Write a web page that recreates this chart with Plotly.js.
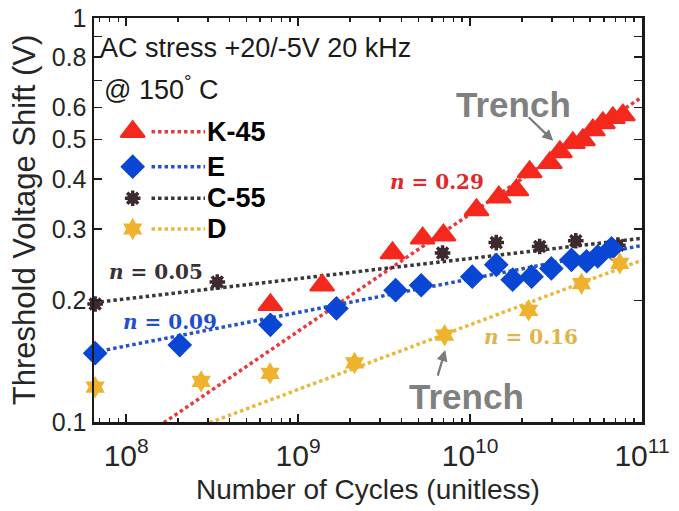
<!DOCTYPE html>
<html><head><meta charset="utf-8">
<script src="https://cdn.plot.ly/plotly-3.0.1.min.js"></script>
<style>html,body{margin:0;padding:0;background:#fff}#chart{width:679px;height:511px}</style>
</head><body><div id="chart"></div>
<script>
// ---------------- data ----------------
const seriesNames = ['K-45', 'E', 'C-55', 'D'];
const k45Cycles = [6.9e8, 1.38e9, 3.54e9, 5.3e9, 7.0e9, 1.09e10, 1.47e10, 1.86e10, 2.22e10, 2.91e10, 3.33e10, 3.96e10, 4.53e10, 5.18e10, 5.92e10, 6.77e10, 7.74e10];
const k45Shift  = [0.195, 0.218, 0.262, 0.285, 0.290, 0.335, 0.360, 0.375, 0.416, 0.438, 0.466, 0.491, 0.499, 0.528, 0.550, 0.566, 0.575];
const eCycles = [6.6e7, 2.05e8, 6.9e8, 1.67e9, 3.69e9, 5.2e9, 1.03e10, 1.42e10, 1.77e10, 2.28e10, 2.97e10, 3.89e10, 4.76e10, 5.53e10, 6.65e10];
const eShift  = [0.148, 0.155, 0.174, 0.191, 0.212, 0.218, 0.229, 0.245, 0.225, 0.229, 0.240, 0.252, 0.250, 0.257, 0.269];
const c55Cycles = [6.6e7, 3.39e8, 6.92e9, 1.42e10, 2.54e10, 4.12e10, 7.24e10];
const c55Shift  = [0.196, 0.222, 0.262, 0.278, 0.272, 0.281, 0.274];
const dCycles = [6.6e7, 2.73e8, 6.87e8, 2.13e9, 7.11e9, 2.19e10, 4.45e10, 7.43e10];
const dShift  = [0.122, 0.126, 0.132, 0.140, 0.164, 0.189, 0.220, 0.247];
// power-law fit lines (as drawn): shift = fitAt1e10 * (cycles / 1e10) ^ fitSlope
const fitSlope  = [0.29, 0.083, 0.05, 0.16];
const fitAt1e10 = [0.327, 0.226, 0.254, 0.174];
const fitLabels = ['0.29', '0.09', '0.05', '0.16'];
const xTickExp = [8, 9, 10, 11];
const yTickVals = [0.1, 0.2, 0.3, 0.4, 0.5, 0.6, 0.7, 0.8, 0.9, 1];
const yTickText = ['0.1', '0.2', '0.3', '0.4', '0.5', '0.6', '', '0.8', '', '1'];
const xMin = 6.5e7, xMax = 1e11;

// ---------------- styles ----------------
const markColor = ['#f4281c', '#0a46d4', '#3c2a2f', '#efb22c'];
const fitColor  = ['#e8393f', '#2352cc', '#383838', '#e8b93c'];
const FONT = 'Liberation Sans, Arial, sans-serif';
const SERIF = 'DejaVu Serif, serif';
const AX = '#1a1a1a';

const markerStyle = [
  {symbol: 'triangle-up', size: 21, color: markColor[0], line: {width: 2, color: markColor[0]}},
  {symbol: 'diamond', size: 19, color: markColor[1], line: {width: 0}},
  {symbol: 'circle', size: 11, color: markColor[2], line: {width: 0}},
  {symbol: 'hexagram', size: 17, color: markColor[3], line: {width: 0}}
];
const c55Spikes = {symbol: 'asterisk-open', size: 13, color: markColor[2], line: {width: 3.5, color: markColor[2]}};

const xs = [k45Cycles, eCycles, c55Cycles, dCycles];
const ys = [k45Shift, eShift, c55Shift, dShift];

const traces = [];
// fit lines
for (let i = 0; i < 4; i++) {
  const fx = [xMin, xMax];
  traces.push({
    x: fx, y: fx.map(v => fitAt1e10[i] * Math.pow(v / 1e10, fitSlope[i])),
    mode: 'lines', line: {color: fitColor[i], width: 3.5, dash: '3.5px,3px'},
    hoverinfo: 'skip', showlegend: false
  });
}
// markers
const order = [0, 2, 1, 3];
order.forEach(i => {
  traces.push({x: xs[i], y: ys[i], mode: 'markers', name: seriesNames[i], marker: markerStyle[i], cliponaxis: false, showlegend: false});
  if (i === 2) traces.push({x: xs[i], y: ys[i], mode: 'markers', marker: c55Spikes, cliponaxis: false, showlegend: false, hoverinfo: 'skip'});
});

// custom legend (layout positions in paper space, drawn on a hidden overlay axis)
const LEG = {keyX: 0.0706, rowY: [0.7186, 0.632, 0.5537, 0.4777], lineX: [0.105, 0.2026], textX: 0.203};
for (let i = 0; i < 4; i++) {
  traces.push({x: [LEG.keyX], y: [LEG.rowY[i]], xaxis: 'x2', yaxis: 'y2', mode: 'markers', marker: markerStyle[i], showlegend: false, hoverinfo: 'skip', cliponaxis: false});
  if (i === 2) traces.push({x: [LEG.keyX], y: [LEG.rowY[i]], xaxis: 'x2', yaxis: 'y2', mode: 'markers', marker: c55Spikes, showlegend: false, hoverinfo: 'skip', cliponaxis: false});
  traces.push({x: LEG.lineX, y: [LEG.rowY[i], LEG.rowY[i]], xaxis: 'x2', yaxis: 'y2', mode: 'lines', line: {color: fitColor[i], width: 3.5, dash: '3.5px,3px'}, showlegend: false, hoverinfo: 'skip'});
}

const annotations = [];
seriesNames.forEach((n, i) => annotations.push({
  xref: 'paper', yref: 'paper', x: LEG.textX, y: LEG.rowY[i], xanchor: 'left', yanchor: 'middle',
  text: '<b>' + n + '</b>', showarrow: false, font: {family: FONT, size: 27, color: '#000'}
}));
annotations.push({xref: 'paper', yref: 'paper', x: 0.008, y: 0.925, xanchor: 'left', yanchor: 'middle', showarrow: false,
  text: 'AC stress +20/-5V 20 kHz', font: {family: FONT, size: 27, color: '#1a1a1a'}});
annotations.push({xref: 'paper', yref: 'paper', x: 0.014, y: 0.827, xanchor: 'left', yanchor: 'middle', showarrow: false,
  text: '@ 150<sup>°</sup> C', font: {family: FONT, size: 27, color: '#1a1a1a'}});
// exponent labels
const nPos = [[0.626, 0.594], [0.139, 0.2475], [0.113, 0.371], [0.797, 0.210]];
const nColor = ['#dd2a2a', '#1f4fd0', '#3a3033', '#e2b448'];
for (let i = 0; i < 4; i++) annotations.push({xref: 'paper', yref: 'paper', x: nPos[i][0], y: nPos[i][1], xanchor: 'center', yanchor: 'middle', showarrow: false,
  text: '<b><i>n</i> = ' + fitLabels[i] + '</b>', font: {family: SERIF, size: 20, color: nColor[i]}});
// Trench labels and arrows
annotations.push({xref: 'paper', yref: 'paper', x: 0.766, y: 0.785, xanchor: 'center', yanchor: 'middle', showarrow: false,
  text: '<b>Trench</b>', font: {family: FONT, size: 35, color: '#808080'}});
annotations.push({xref: 'paper', yref: 'paper', x: 0.679, y: 0.064, xanchor: 'center', yanchor: 'middle', showarrow: false,
  text: '<b>Trench</b>', font: {family: FONT, size: 35, color: '#808080'}});
annotations.push({xref: 'paper', yref: 'paper', x: 0.838, y: 0.696, text: '', showarrow: true, ax: -26, ay: -25,
  arrowhead: 2, arrowsize: 1, arrowwidth: 2.2, arrowcolor: '#7a7a7a'});
annotations.push({xref: 'paper', yref: 'paper', x: 0.641, y: 0.178, text: '', showarrow: true, ax: -8, ay: 27,
  arrowhead: 2, arrowsize: 1, arrowwidth: 2.2, arrowcolor: '#7a7a7a'});

// minor x ticks
const minorX = [];
for (let e = 7; e <= 10; e++) for (let m = 2; m <= 9; m++) { const v = m * Math.pow(10, e); if (v > xMin && v < xMax) minorX.push(v); }

const layout = {
  width: 679, height: 511,
  margin: {l: 94, r: 37, t: 18, b: 89},
  paper_bgcolor: '#fff', plot_bgcolor: '#fff',
  showlegend: false,
  font: {family: FONT, color: '#262626'},
  xaxis: {
    type: 'log', range: [Math.log10(xMin), Math.log10(xMax)],
    showline: true, linecolor: AX, linewidth: 2.5, mirror: 'allticks',
    ticks: 'inside', ticklen: 8, tickwidth: 1.5, tickcolor: AX,
    tickmode: 'array', tickvals: xTickExp.map(e => Math.pow(10, e)), ticktext: xTickExp.map(e => '10<sup>' + e + '</sup>'),
    tickfont: {family: FONT, size: 30, color: '#262626'}, ticklabelstandoff: 5,
    minor: {tickmode: 'array', tickvals: minorX, ticks: 'inside', ticklen: 4, tickwidth: 1.5, tickcolor: AX, showgrid: false},
    showgrid: false, zeroline: false, automargin: false,
    title: {text: 'Number of Cycles (unitless)', font: {family: FONT, size: 28, color: '#262626'}, standoff: 9}
  },
  yaxis: {
    type: 'log', range: [-1, 0],
    showline: true, linecolor: AX, linewidth: 2.5, mirror: 'allticks',
    ticks: 'inside', ticklen: 8, tickwidth: 1.5, tickcolor: AX,
    tickmode: 'array', tickvals: yTickVals, ticktext: yTickText,
    tickfont: {family: FONT, size: 25, color: '#262626'},
    showgrid: false, zeroline: false, automargin: false,
    title: {text: 'Threshold Voltage Shift (V)', font: {family: FONT, size: 31, color: '#262626'}, standoff: 7}
  },
  xaxis2: {overlaying: 'x', anchor: 'y2', range: [0, 1], visible: false, fixedrange: true},
  yaxis2: {overlaying: 'y', anchor: 'x2', range: [0, 1], visible: false, fixedrange: true},
  annotations: annotations
};

Plotly.newPlot('chart', traces, layout, {displayModeBar: false, staticPlot: true});
</script>
</body></html>
